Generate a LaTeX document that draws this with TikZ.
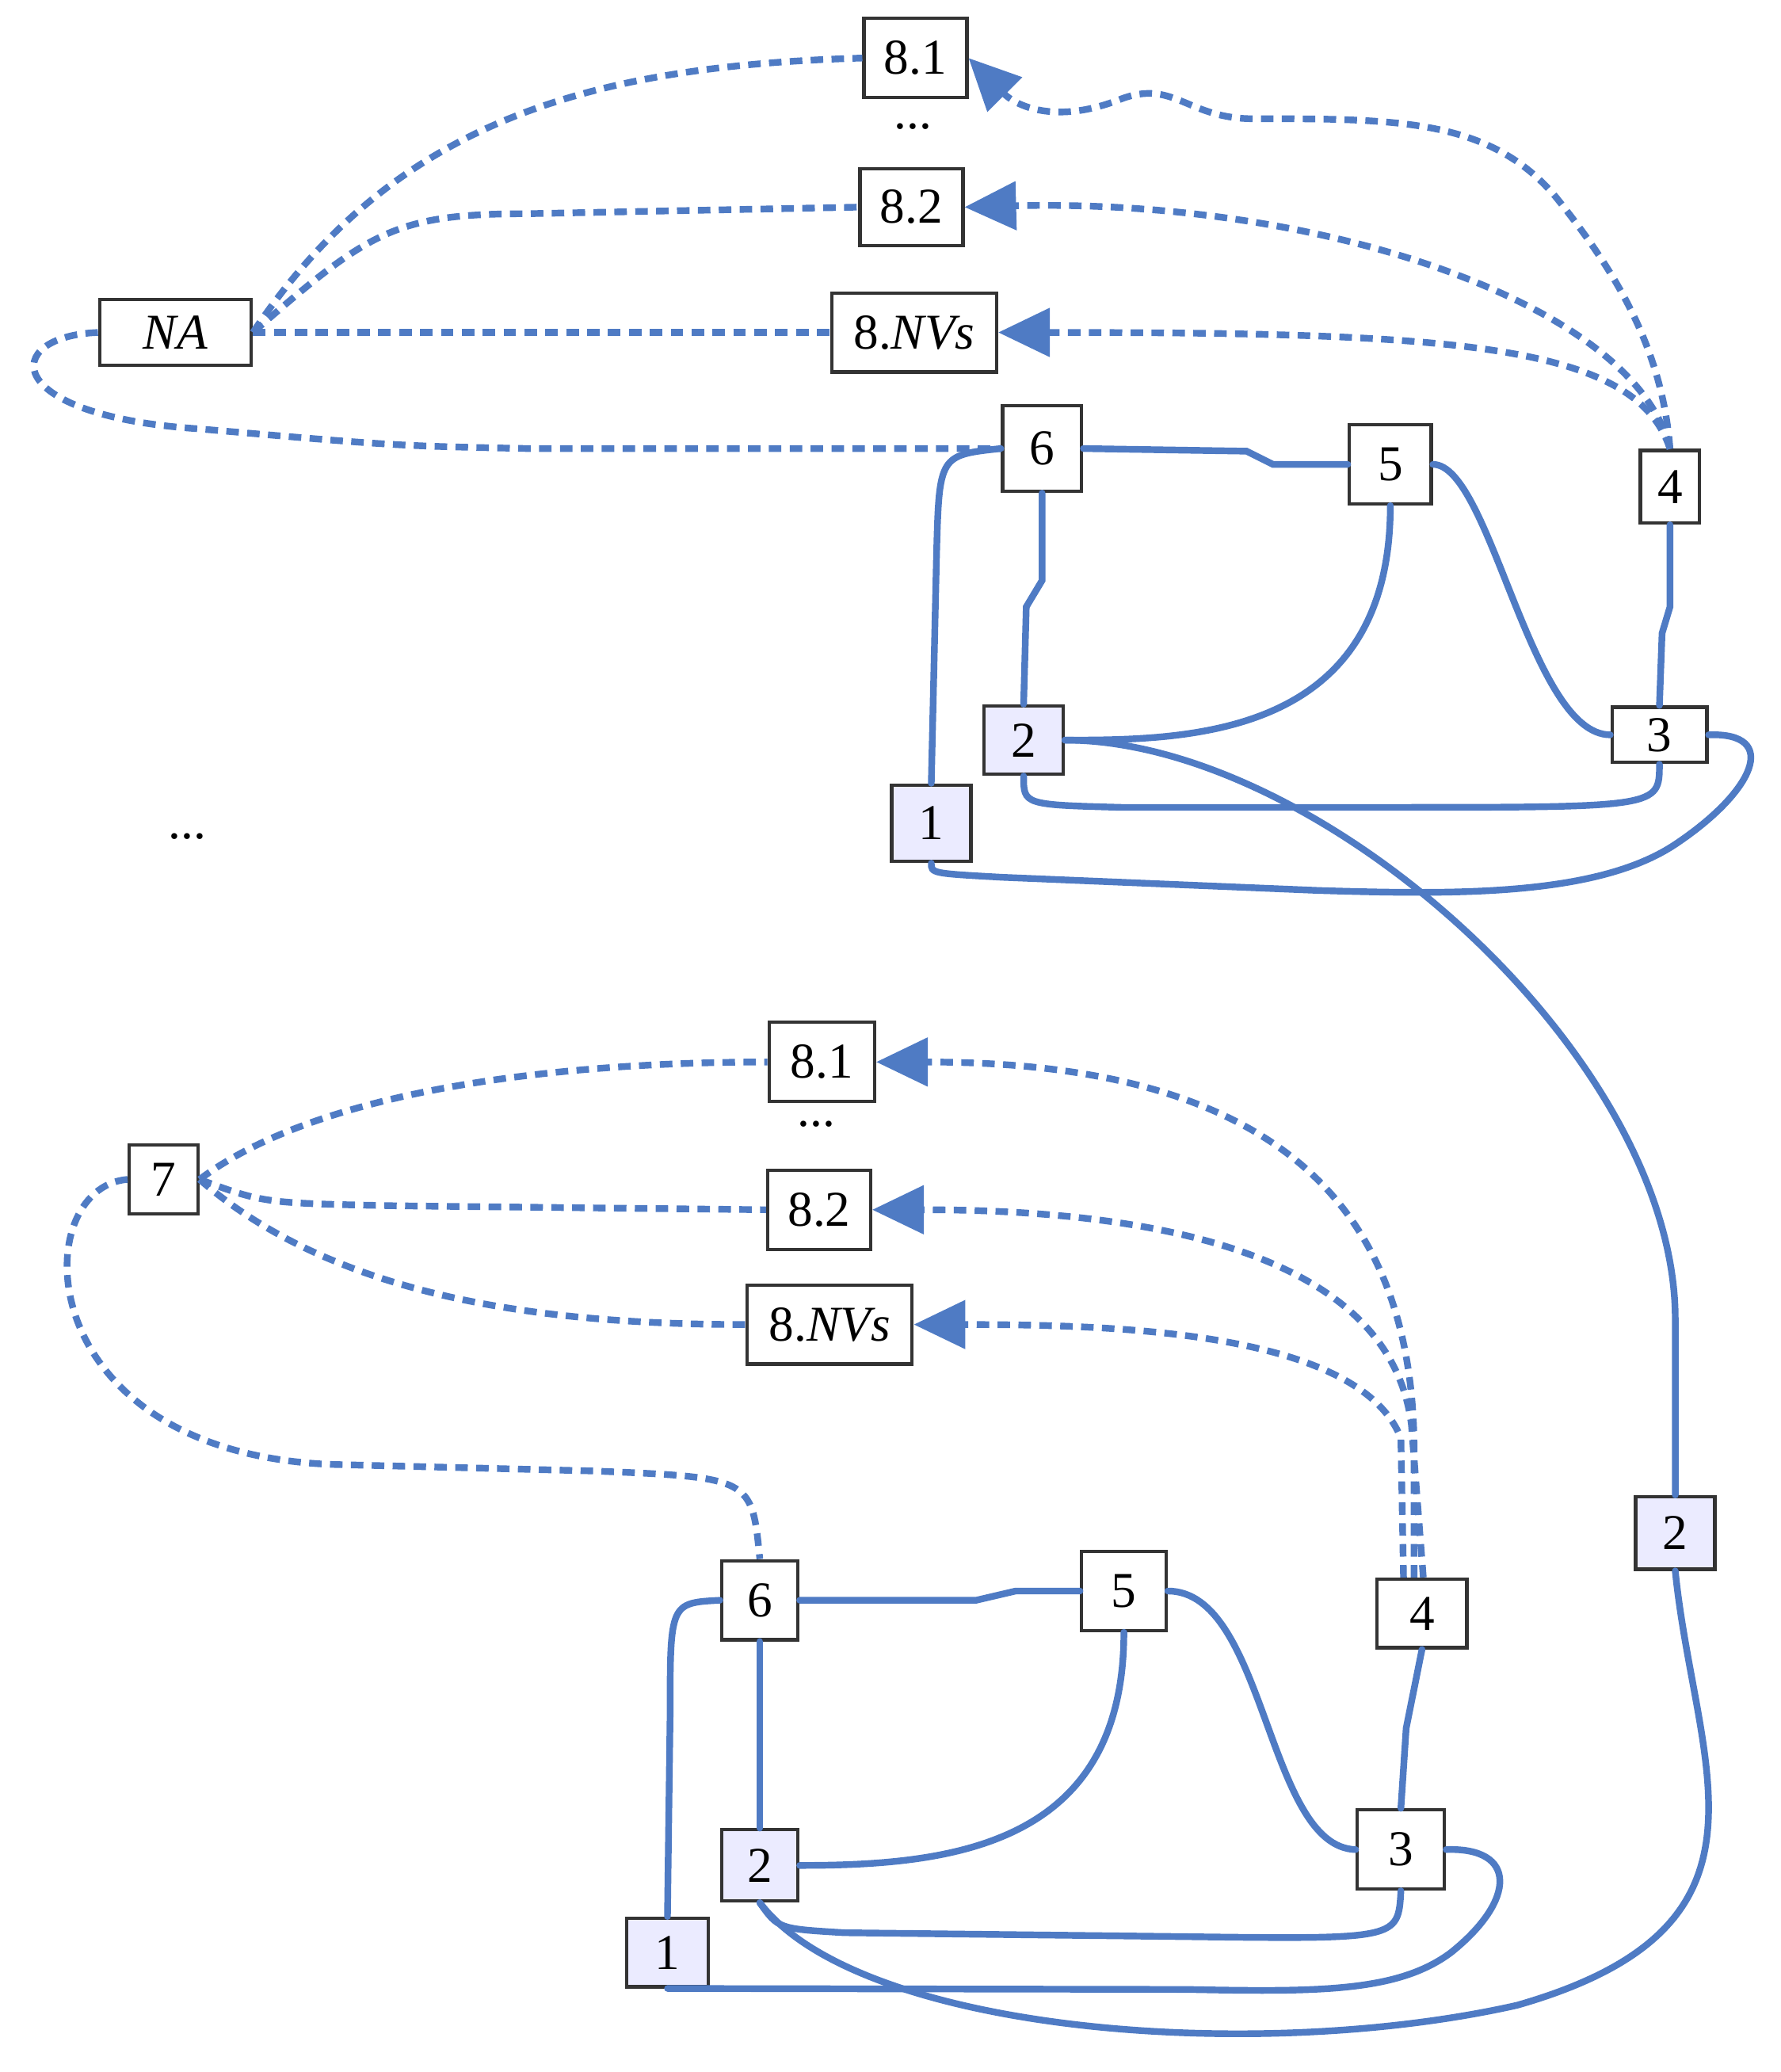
\documentclass[tikz,border=0pt]{standalone}
\usepackage{fontspec}
\setmainfont{Liberation Serif}
\usetikzlibrary{arrows.meta}
\begin{document}
\begin{tikzpicture}[x=0.01665cm,y=-0.01665cm,
  bx/.style={draw=black!80,line width=1.2pt,fill=white,inner sep=0pt,font=\fontsize{18}{20}\selectfont},
  fb/.style={bx,fill=blue!8!white},
  sl/.style={draw=lb,line width=2.4pt,line cap=round},
  dl/.style={draw=lb,line width=2.4pt,dash pattern=on 4.5pt off 3pt},
  ar/.style={dl,-{Triangle[length=0.65cm,width=0.6cm]}}]
\definecolor{lb}{HTML}{4F7BC4}
\useasboundingbox (0,0) rectangle (1350,1570.6);
% top nodes
\node[bx,minimum width=78*0.01665cm,minimum height=60*0.01665cm] (a81) at (694,44) {8.1};
\node[bx,minimum width=78*0.01665cm,minimum height=58*0.01665cm] (a82) at (691,157) {8.2};
\node[bx,minimum width=125*0.01665cm,minimum height=60*0.01665cm] (anv) at (693,252) {8.\textit{NVs}};
\node[bx,minimum width=115*0.01665cm,minimum height=50*0.01665cm] (na) at (133,252) {\textit{NA}};
\node[bx,minimum width=60*0.01665cm,minimum height=65*0.01665cm] (a6) at (790,340) {6};
\node[bx,minimum width=62*0.01665cm,minimum height=60*0.01665cm] (a5) at (1054,352) {5};
\node[bx,minimum width=45*0.01665cm,minimum height=55*0.01665cm] (a4) at (1266,369) {4};
\node[bx,minimum width=72*0.01665cm,minimum height=42*0.01665cm] (a3) at (1258,557) {3};
\node[fb,minimum width=60*0.01665cm,minimum height=52*0.01665cm] (a2) at (776,561) {2};
\node[fb,minimum width=60*0.01665cm,minimum height=58*0.01665cm] (a1) at (706,624) {1};
\node[font=\fontsize{18}{20}\selectfont] (d1) at (692,96) {...};
\node[font=\fontsize{18}{20}\selectfont] (d2) at (142,634) {...};
\node[font=\fontsize{18}{20}\selectfont] (d3) at (619,852) {...};
% bottom nodes
\node[bx,minimum width=80*0.01665cm,minimum height=60*0.01665cm] (b81) at (623,805) {8.1};
\node[bx,minimum width=78*0.01665cm,minimum height=60*0.01665cm] (b82) at (621,917) {8.2};
\node[bx,minimum width=125*0.01665cm,minimum height=60*0.01665cm] (bnv) at (629,1004) {8.\textit{NVs}};
\node[bx,minimum width=52*0.01665cm,minimum height=52*0.01665cm] (b7) at (124,894) {7};
\node[bx,minimum width=58*0.01665cm,minimum height=60*0.01665cm] (b6) at (576,1213) {6};
\node[bx,minimum width=64*0.01665cm,minimum height=60*0.01665cm] (b5) at (852,1206) {5};
\node[bx,minimum width=68*0.01665cm,minimum height=52*0.01665cm] (b4) at (1078,1223) {4};
\node[bx,minimum width=66*0.01665cm,minimum height=60*0.01665cm] (b3) at (1062,1402) {3};
\node[fb,minimum width=58*0.01665cm,minimum height=54*0.01665cm] (b2) at (576,1414) {2};
\node[fb,minimum width=62*0.01665cm,minimum height=52*0.01665cm] (b1) at (506,1480) {1};
\node[fb,minimum width=60*0.01665cm,minimum height=55*0.01665cm] (r2) at (1270,1162) {2};
% top solid
\begin{scope}[on background layer/.style={}]
\draw[sl] (a6.east) -- (945,342) -- (965,352) -- (a5.west);
\draw[sl] (a6.west) .. controls (712,345) .. (710,420) -- (a1.north);
\draw[sl] (a6.south) -- (790,440) -- (778,460) -- (a2.north);
\draw[sl] (a5.south) .. controls (1054,560) and (900,561) .. (a2.east);
\draw[sl] (a5.east) .. controls (1130,352) and (1160,557) .. (a3.west);
\draw[sl] (a4.south) -- (1266,460) -- (1260,480) -- (a3.north);
\draw[sl] (a3.south) .. controls (1258,612) .. (1050,612) -- (850,612) .. controls (776,610) .. (a2.south);
\draw[sl] (a3.east) .. controls (1350,555) and (1330,600) .. (1270,640) .. controls (1210,680) and (1100,678) .. (1000,675) -- (760,665) .. controls (706,662) .. (a1.south);
\draw[sl] (a2.east) .. controls (1000,561) and (1270,800) .. (1270,1000) -- (r2.north);
\draw[sl] (r2.south) .. controls (1285,1340) and (1360,1460) .. (1150,1520) .. controls (950,1565) and (650,1540) .. (b2.south);
% bottom solid
\draw[sl] (b6.east) -- (740,1213) -- (770,1206) -- (b5.west);
\draw[sl] (b6.west) .. controls (508,1215) .. (508,1300) -- (b1.north);
\draw[sl] (b6.south) -- (b2.north);
\draw[sl] (b5.south) .. controls (852,1400) and (720,1414) .. (b2.east);
\draw[sl] (b5.east) .. controls (960,1206) and (960,1400) .. (b3.west);
\draw[sl] (b4.south) -- (1066,1310) -- (b3.north);
\draw[sl] (b3.south) .. controls (1060,1470) .. (900,1468) -- (640,1465) .. controls (590,1462) .. (b2.south);
\draw[sl] (b3.east) .. controls (1150,1400) and (1150,1440) .. (1100,1480) .. controls (1060,1510) and (1000,1510) .. (900,1508) -- (b1.south);
\end{scope}
% top dashed
\draw[dl] (na.east) .. controls (300,90) and (450,50) .. (a81.west);
\draw[dl] (na.east) .. controls (280,175) and (300,162) .. (400,162) -- (a82.west);
\draw[dl] (na.east) -- (anv.west);
\draw[dl] (na.west) .. controls (0,255) and (0,315) .. (150,325) .. controls (300,338) .. (400,340) -- (a6.west);
\draw[ar] (a4.north) .. controls (1260,260) and (1220,200) .. (1180,150) .. controls (1130,90) and (1060,90) .. (950,90) .. controls (900,90) and (890,60) .. (850,75) .. controls (800,95) and (770,80) .. (a81.east);
\draw[ar] (a4.north) .. controls (1240,230) and (1000,150) .. (a82.east);
\draw[ar] (a4.north) .. controls (1240,260) and (1100,252) .. (anv.east);
% bottom dashed
\draw[dl] (b7.east) .. controls (250,820) and (450,805) .. (b81.west);
\draw[dl] (b7.east) .. controls (200,912) .. (300,914) -- (b82.west);
\draw[dl] (b7.east) .. controls (250,980) and (400,1004) .. (bnv.west);
\draw[dl] (b7.west) .. controls (20,900) and (20,1100) .. (250,1110) -- (450,1115) .. controls (570,1120) .. (b6.north);
\draw[ar] ([xshift=-6*0.01665cm]b4.north) -- (1072,1100) .. controls (1072,900) and (950,805) .. (b81.east);
\draw[ar] ([xshift=1*0.01665cm]b4.north) -- (1070,1080) .. controls (1055,960) and (900,917) .. (b82.east);
\draw[ar] ([xshift=-14*0.01665cm]b4.north) -- (1062,1090) .. controls (1030,1010) and (850,1004) .. (bnv.east);
\end{tikzpicture}
\end{document}
